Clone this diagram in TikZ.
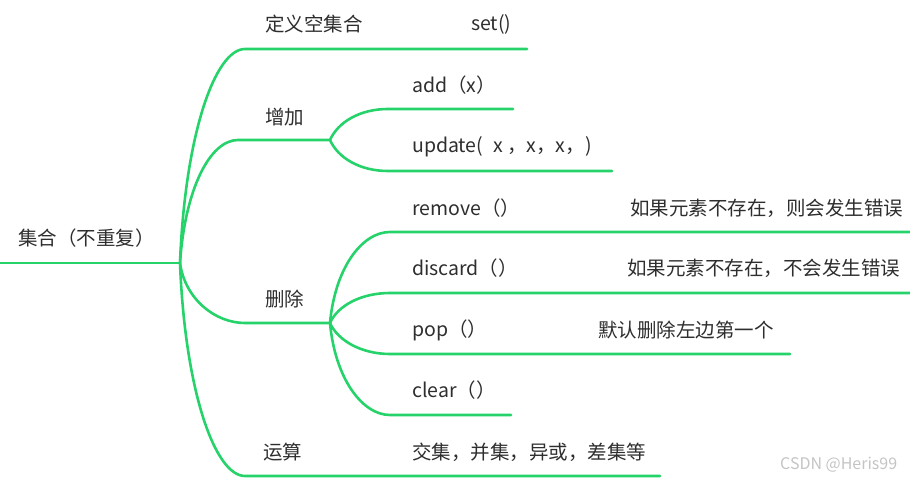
\documentclass[tikz,border=0pt]{standalone}
\usepackage{fontspec}
\setmainfont{Noto Sans CJK SC}
\usepackage{xcolor}
\usepackage{tikz}
\definecolor{MapGreen}{HTML}{26D36B}
\definecolor{TextGray}{HTML}{2E2E2E}
\definecolor{MarkGray}{HTML}{C4C4C4}

\begin{document}
\begin{tikzpicture}[x=1pt, y=1pt,
    branch/.style={draw=MapGreen, line width=2.6pt, line cap=round},
    topictext/.style={anchor=west, inner sep=0pt, text=TextGray,
                      font=\fontsize{19.5}{22}\selectfont}]
  \useasboundingbox (0,0) rectangle (910,480);

  % texts
  \node[topictext] (root) at (18,242) {集合（不重复）};
  \node[topictext] (def) at (265,456) {定义空集合};
  \node[topictext] (setf) at (471,456) {set()};
  \node[topictext] (add) at (265,363) {增加};
  \node[topictext] (addx) at (412,395) {add（x）};
  \node[topictext] (upd) at (412,333) {update(\enspace x ，x，x，)};
  \node[topictext] (del) at (265,181) {删除};
  \node[topictext] (rem) at (412,272) {remove（）};
  \node[topictext] (remnote) at (630,272) {如果元素不存在，则会发生错误};
  \node[topictext] (dis) at (412,212) {discard（）};
  \node[topictext] (disnote) at (627,212) {如果元素不存在，不会发生错误};
  \node[topictext] (pop) at (412,150) {pop（）};
  \node[topictext] (popnote) at (598,150) {默认删除左边第一个};
  \node[topictext] (clr) at (412,90) {clear（）};
  \node[topictext] (calc) at (263,28) {运算};
  \node[topictext] (calcnote) at (412,28) {交集，并集，异或，差集等};
  \node[anchor=west, inner sep=0pt, text=MarkGray, font=\fontsize{16}{18}\selectfont]
    (mark) at (780,15) {CSDN @Heris99};

  % line points
  \coordinate (rootL) at (0,217);
  \coordinate (rootJ) at (180,217);
  \coordinate (defS) at (245,431);
  \coordinate (defE) at (527,431);
  \coordinate (addS) at (238,340);
  \coordinate (addJ) at (330,340);
  \coordinate (addxS) at (388,371);
  \coordinate (addxE) at (513,371);
  \coordinate (updS) at (388,309);
  \coordinate (updE) at (612,309);
  \coordinate (delS) at (245,157);
  \coordinate (delJ) at (330,157);
  \coordinate (remS) at (390,248);
  \coordinate (remE) at (910,248);
  \coordinate (disS) at (390,187);
  \coordinate (disE) at (910,187);
  \coordinate (popS) at (390,126);
  \coordinate (popE) at (790,126);
  \coordinate (clrS) at (390,65);
  \coordinate (clrE) at (511,65);
  \coordinate (calcS) at (245,4);
  \coordinate (calcE) at (660,4);

  % connectors
  \draw[branch] (rootL) -- (rootJ);
  \draw[branch] (rootJ) .. controls +(5,128) and +(-30,0) .. (defS) -- (defE);
  \draw[branch] (rootJ) .. controls +(5,74) and +(-28,0) .. (addS) -- (addJ);
  \draw[branch] (rootJ) .. controls +(5,-36) and +(-30,0) .. (delS) -- (delJ);
  \draw[branch] (rootJ) .. controls +(5,-128) and +(-30,0) .. (calcS) -- (calcE);
  \draw[branch] (addJ) .. controls +(8,18) and +(-28,0) .. (addxS) -- (addxE);
  \draw[branch] (addJ) .. controls +(8,-18) and +(-28,0) .. (updS) -- (updE);
  \draw[branch] (delJ) .. controls +(5,55) and +(-28,0) .. (remS) -- (remE);
  \draw[branch] (delJ) .. controls +(8,18) and +(-28,0) .. (disS) -- (disE);
  \draw[branch] (delJ) .. controls +(8,-18) and +(-28,0) .. (popS) -- (popE);
  \draw[branch] (delJ) .. controls +(5,-55) and +(-28,0) .. (clrS) -- (clrE);
\end{tikzpicture}
\end{document}
